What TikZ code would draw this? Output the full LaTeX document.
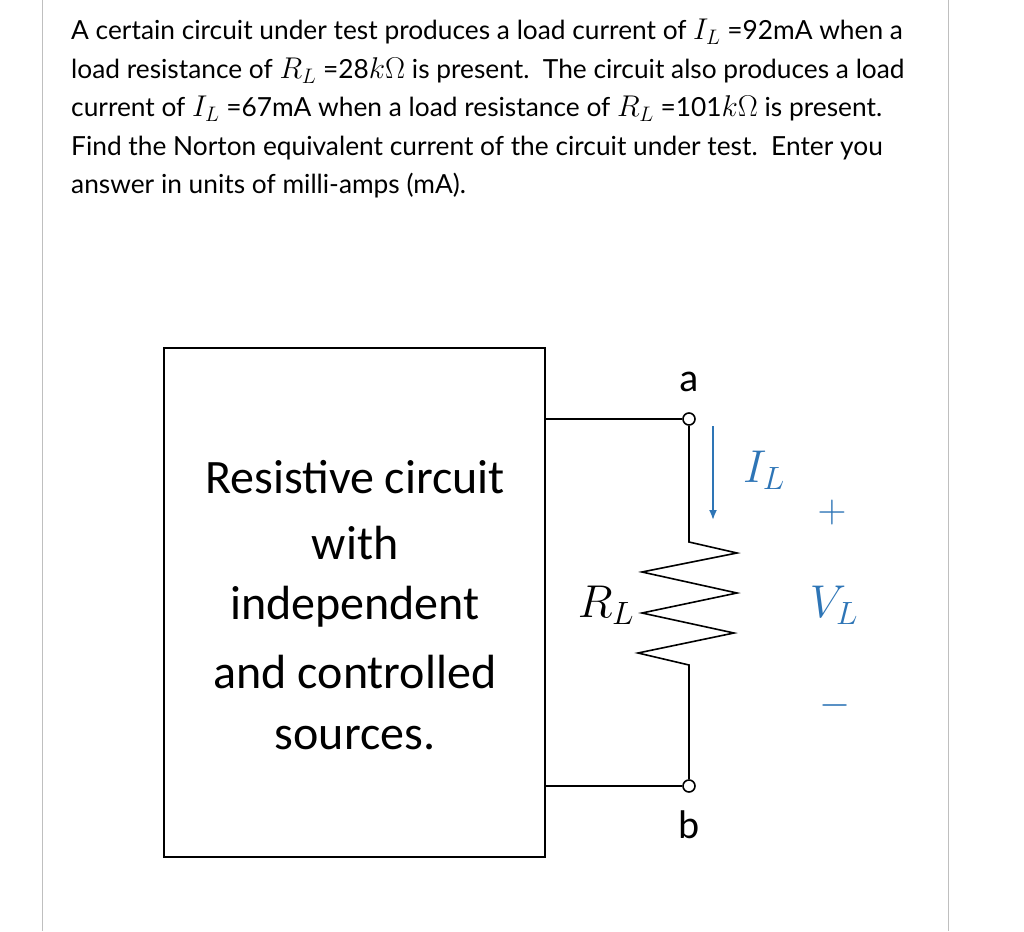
\RequirePackage{fix-cm}
\documentclass[tikz,border=0pt]{standalone}
\usepackage{fontspec}
\usetikzlibrary{arrows.meta}
\setmainfont{Lato}
\newfontfamily\boxfont{Carlito}
\newcommand{\mymath}[1]{{\fontsize{30}{30}\selectfont$#1$}}
\begin{document}
\begin{tikzpicture}[x=1pt,y=-1pt,
  q/.style={anchor=base west,inner sep=0,font=\fontsize{26.3}{30}\selectfont},
  bt/.style={font=\boxfont\fontsize{48}{50}\selectfont,inner sep=0},
  blue/.style={color={rgb,255:red,46;green,117;blue,182}},
  term/.style={circle,draw,fill=white,minimum size=12pt,inner sep=0,line width=1.6pt}]
\useasboundingbox (0,0) rectangle (1024,931);
\draw[gray!50,line width=1pt] (42,0) -- (42,931) (948,0) -- (948,931);
\node[q] (t1) at (71,40) {A certain circuit under test produces a load current of \mymath{I_L} =92mA when a};
\node[q] (t2) at (71,79) {load resistance of \mymath{R_L} =28\mymath{k\Omega} is present.\ \ The circuit also produces a load};
\node[q] (t3) at (71,117) {current of \mymath{I_L} =67mA when a load resistance of \mymath{R_L} =101\mymath{k\Omega} is present.};
\node[q] (t4) at (71,155) {Find the Norton equivalent current of the circuit under test.\ \ Enter you};
\node[q] (t5) at (71,193) {answer in units of milli-amps (mA).};
\draw[line width=2pt] (164,348) rectangle (545,857);
\node[bt] at (355,477) {Resistive circuit};
\node[bt] at (355,543) {with};
\node[bt] at (355,607) {independent};
\node[bt] at (355,672) {and controlled};
\node[bt] at (355,738) {sources.};
\coordinate (la) at (545,419);
\coordinate (lb) at (545,786);
\node[term] (a) at (689,419) {};
\node[term] (b) at (689,786) {};
\draw[line width=1.6pt] (la) -- (a.west);
\draw[line width=1.6pt] (lb) -- (b.west);
\draw[line width=1.6pt,line join=miter] (a.south) -- (689,542) -- (737,553) -- (642,572) -- (737,593) -- (642,613) -- (734,633) -- (638,653) -- (689,665) -- (b.north);
\node[font=\boxfont\fontsize{40}{40}\selectfont,inner sep=0] at (689,382) {a};
\node[font=\boxfont\fontsize{40}{40}\selectfont,inner sep=0] at (689,825) {b};
\node[inner sep=0,font=\fontsize{46}{46}\selectfont] at (606,605) {$R_L$};
\coordinate (ia) at (713,426);
\coordinate (ib) at (713,520);
\draw[blue,line width=1.8pt,-{Latex[length=10pt,width=8pt]}] (ia) -- (ib);
\node[blue,inner sep=0,font=\fontsize{46}{46}\selectfont] at (764,470) {$I_L$};
\node[blue,inner sep=0,font=\fontsize{40}{40}\selectfont] at (832,512) {$+$};
\node[blue,inner sep=0,font=\fontsize{46}{46}\selectfont] at (834,605) {$V_L$};
\node[blue,inner sep=0,font=\fontsize{40}{40}\selectfont] at (835,705) {$-$};
\end{tikzpicture}
\end{document}
